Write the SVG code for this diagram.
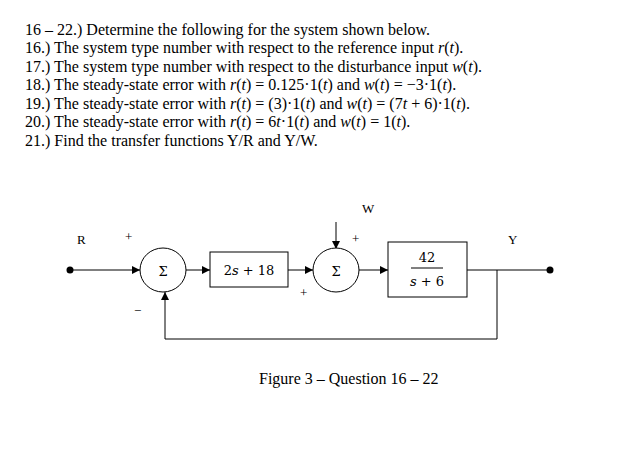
<svg xmlns="http://www.w3.org/2000/svg" width="621" height="458" viewBox="0 0 621 458">
<style>
.t{font-family:"Liberation Serif",serif;font-size:16px;fill:#000}
.l{font-family:"Liberation Serif",serif;font-size:13px;fill:#000}
.m{font-family:"DejaVu Serif","Liberation Serif",serif;font-size:13px;fill:#000}
.s{fill:#fff;stroke:#000;stroke-width:1}
.c{fill:none;stroke:#000;stroke-width:1}
</style>
<defs><marker id="a" viewBox="0 0 10 10" refX="10" refY="5" markerWidth="8" markerHeight="8" orient="auto" markerUnits="userSpaceOnUse"><path d="M0,0L10,5L0,10z" fill="#000"/></marker></defs>
<g id="text">
<text class="t" x="25" y="35">16 – 22.) Determine the following for the system shown below.</text>
<text class="t" x="25" y="53">16.) The system type number with respect to the reference input <tspan font-style="italic">r</tspan>(<tspan font-style="italic">t</tspan>).</text>
<text class="t" x="25" y="72">17.) The system type number with respect to the disturbance input <tspan font-style="italic">w</tspan>(<tspan font-style="italic">t</tspan>).</text>
<text class="t" x="25" y="90">18.) The steady-state error with <tspan font-style="italic">r</tspan>(<tspan font-style="italic">t</tspan>) = 0.125·1(<tspan font-style="italic">t</tspan>) and <tspan font-style="italic">w</tspan>(<tspan font-style="italic">t</tspan>) = −3·1(<tspan font-style="italic">t</tspan>).</text>
<text class="t" x="25" y="109">19.) The steady-state error with <tspan font-style="italic">r</tspan>(<tspan font-style="italic">t</tspan>) = (3)·1(<tspan font-style="italic">t</tspan>) and <tspan font-style="italic">w</tspan>(<tspan font-style="italic">t</tspan>) = (7<tspan font-style="italic">t</tspan> + 6)·1(<tspan font-style="italic">t</tspan>).</text>
<text class="t" x="25" y="127">20.) The steady-state error with <tspan font-style="italic">r</tspan>(<tspan font-style="italic">t</tspan>) =  6<tspan font-style="italic">t</tspan>·1(<tspan font-style="italic">t</tspan>) and <tspan font-style="italic">w</tspan>(<tspan font-style="italic">t</tspan>) = 1(<tspan font-style="italic">t</tspan>).</text>
<text class="t" x="25" y="146">21.) Find the transfer functions Y/R and Y/W.</text>
<text class="t" x="259" y="384" font-size="15">Figure 3 – Question 16 – 22</text>
</g>
<g id="connectors">
<circle cx="70" cy="270" r="3.5" fill="#000"/>
<circle cx="550" cy="270" r="3.5" fill="#000"/>
<line class="c" x1="70" y1="270" x2="140" y2="270" marker-end="url(#a)"/>
<line class="c" x1="186" y1="270" x2="210" y2="270" marker-end="url(#a)"/>
<line class="c" x1="288" y1="270" x2="313" y2="270" marker-end="url(#a)"/>
<line class="c" x1="359" y1="270" x2="388" y2="270" marker-end="url(#a)"/>
<line class="c" x1="467" y1="270" x2="550" y2="270"/>
<line class="c" x1="336" y1="222" x2="336" y2="249" marker-end="url(#a)"/>
<polyline class="c" points="497,270 497,339 165,339 165,292" marker-end="url(#a)"/>
</g>
<g id="sum1"><ellipse class="s" cx="163" cy="270" rx="23" ry="22"/><text class="m" x="163" y="276" text-anchor="middle" font-size="15">Σ</text></g>
<g id="block1"><rect class="s" x="210" y="252" width="78" height="35"/><text class="m" x="249" y="275" text-anchor="middle">2<tspan font-style="italic">s</tspan> + 18</text></g>
<g id="sum2"><ellipse class="s" cx="336" cy="270" rx="23" ry="22"/><text class="m" x="336" y="276" text-anchor="middle" font-size="15">Σ</text></g>
<g id="block2"><rect class="s" x="388" y="242" width="79" height="55"/><text class="m" x="427" y="262" text-anchor="middle">42</text><line class="c" x1="411" y1="268" x2="443" y2="268"/><text class="m" x="427" y="286" text-anchor="middle"><tspan font-style="italic">s</tspan> + 6</text></g>
<g id="labels">
<text class="l" x="77" y="244">R</text>
<text class="l" x="508" y="244">Y</text>
<text class="l" x="362" y="213">W</text>
<text class="l" x="125" y="241">+</text>
<text class="l" x="134" y="315">−</text>
<text class="l" x="300" y="297">+</text>
<text class="l" x="352" y="243">+</text>
</g>
</svg>
